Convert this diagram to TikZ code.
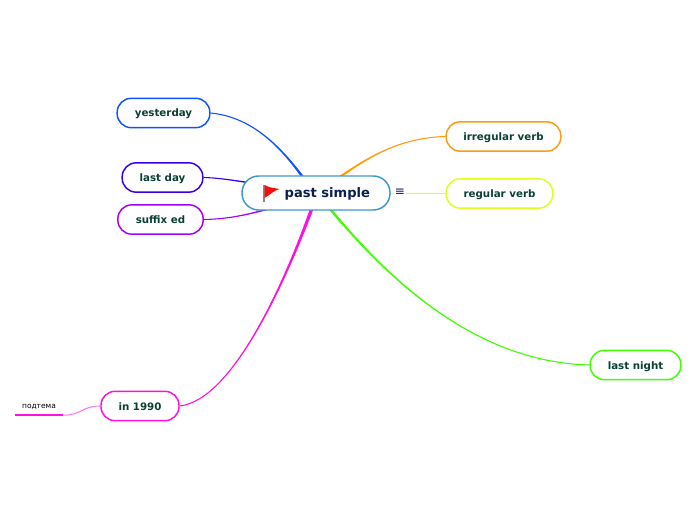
\documentclass[tikz,border=0pt]{standalone}
\usepackage{fontspec}
\setmainfont{DejaVu Sans}
\usetikzlibrary{backgrounds}
\definecolor{rootblue}{HTML}{3F97D0}
\definecolor{rootink}{HTML}{0A1F4F}
\definecolor{topicink}{HTML}{0A4033}
\definecolor{yestblue}{HTML}{0F52FF}
\definecolor{lastviolet}{HTML}{3A00EE}
\definecolor{suffixpurple}{HTML}{A800F5}
\definecolor{irregorange}{HTML}{FF9C10}
\definecolor{regyellow}{HTML}{E0FF20}
\definecolor{nightgreen}{HTML}{40FF00}
\definecolor{yearpink}{HTML}{FF10E0}
\definecolor{flagred}{HTML}{F01010}
\definecolor{polebrown}{HTML}{A08070}
\tikzset{
  topicbox/.style={draw=#1,line width=1.1pt,rounded corners=10.5pt,fill=white,text=topicink,
    font=\fontsize{7.7}{10}\selectfont\bfseries,minimum height=22pt,inner sep=0pt,text height=8pt,text depth=2pt},
  rootbox/.style={draw=rootblue,line width=1.1pt,rounded corners=12.5pt,fill=white,text=rootink,
    font=\fontsize{9.8}{12}\selectfont\bfseries,minimum width=111pt,minimum height=25.5pt,inner sep=0pt,
    text height=10pt,text depth=2.5pt},
  subbox/.style={font=\fontsize{5.6}{8}\selectfont,minimum width=36pt,minimum height=13.5pt,inner sep=0pt,
    text height=6pt,text depth=3pt}
}
% #1 colour, #2 topic end, #3 #4 controls, #5 spread at the root
\newcommand{\branch}[5]{
  \draw[#1,line width=0.8pt,fill=#1,line join=round] (#2) .. controls (#3) and (#4) .. ([shift={#5}]root.center)
    -- ([shift={(0,0)}]root.center) .. controls (#4) and (#3) .. (#2);
}
\begin{document}
\begin{tikzpicture}[x=0.75pt,y=-0.75pt]
\useasboundingbox (0,0) rectangle (696,520);
\node[rootbox] (root) at (316,193) {\hspace*{17pt}past simple};
\node[topicbox=yestblue,minimum width=69.5pt] (yesterday) at (163.5,113) {yesterday};
\node[topicbox=lastviolet,minimum width=60.5pt] (lastday) at (162.5,177.5) {last day};
\node[topicbox=suffixpurple,minimum width=64pt] (suffix) at (160.5,219.5) {suffix ed};
\node[topicbox=irregorange,minimum width=86pt] (irregular) at (503.5,136.5) {irregular verb};
\node[topicbox=regyellow,minimum width=80pt] (regular) at (499.5,193.5) {regular verb};
\node[topicbox=nightgreen,minimum width=68pt] (lastnight) at (635.5,365) {last night};
\node[topicbox=yearpink,minimum width=58.5pt] (year) at (140,406) {in 1990};
\node[subbox] (sub) at (39,406) {подтема};
\node[fill=white,text=rootink,inner sep=0.5pt,font=\fontsize{9}{9}\selectfont] (menu) at (400,192.5) {≡};
\begin{scope}[on background layer]
\branch{yestblue}{yesterday.east}{262,118}{292,162}{(-2,1.5)}
\branch{lastviolet}{lastday.east}{222,178}{240,181}{(0,2)}
\branch{suffixpurple}{suffix.east}{235,219}{262,212}{(0,2)}
\branch{irregorange}{irregular.west}{395,138}{362,160}{(2,1.5)}
\branch{nightgreen}{lastnight.west}{470,362}{380,272}{(1.5,-1)}
\branch{yearpink}{year.east}{232,400}{285,285}{(3,0)}
\draw[regyellow,line width=0.7pt] (regular.west) -- (root.center);
\draw[yearpink!55,line width=0.8pt] (year.west) .. controls (82,406) and (82,415) .. (sub.south east);
\end{scope}
\draw[yearpink,line width=1.8pt] (sub.south west) -- (sub.south east);
% flag
\fill[polebrown] (263,185) rectangle (264.5,202);
\fill[flagred] (264.5,185) .. controls (270,188) and (274,188) .. (279.5,189)
  .. controls (273,191) and (270,195) .. (264.5,198) -- cycle;
\end{tikzpicture}
\end{document}
